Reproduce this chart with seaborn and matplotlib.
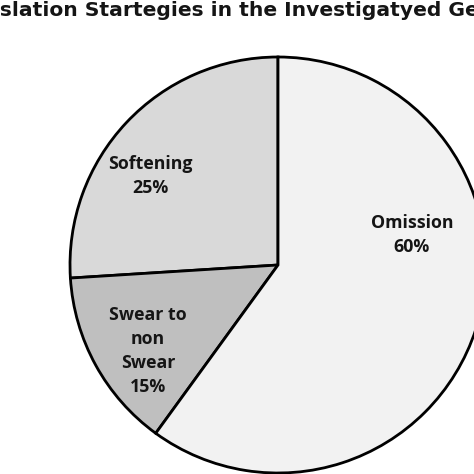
import matplotlib
matplotlib.use("Agg")
import matplotlib.pyplot as plt
import seaborn as sns

# valeurs (parts des stratégies)
categories = ["Softening", "Swear to non Swear", "Omission"]
parts = [26, 14, 60]
etiquettes = ["Softening\n25%", "Swear to\nnon\nSwear\n15%", "Omission\n60%"]
couleurs = ["#d9d9d9", "#bfbfbf", "#f2f2f2"]
titre = "Translation Startegies in the Investigatyed Genre"

sns.set_theme(style="white")
plt.rcParams["font.family"] = ["Open Sans", "DejaVu Sans"]

fig = plt.figure(figsize=(4.74, 4.74), dpi=100)
ax = fig.add_axes([0, 0, 1, 1])

wedges, _ = ax.pie(parts, colors=couleurs, startangle=90, counterclock=True,
                   radius=1.0, center=(0, 0),
                   wedgeprops=dict(edgecolor="black", linewidth=2.0))

# cadrage : centre du camembert a (278, 265) px, rayon 208 px
r_px = 208
ax.set_xlim(-278 / r_px, (474 - 278) / r_px)
ax.set_ylim(-(474 - 265) / r_px, 265 / r_px)
ax.set_aspect("equal")
ax.axis("off")

# etiquettes
pos = [(150, 176), (148, 351), (412, 235)]
for (px, py), txt in zip(pos, etiquettes):
    ax.text((px - 278) / r_px, (265 - py) / r_px, txt, ha="center", va="center",
            fontsize=12.8, fontweight="bold", color="#151515", linespacing=1.45)

# titre coupe a gauche et a droite
fam_titre = ["DejaVu Sans"]
taille_titre = 14.6
renderer = fig.canvas.get_renderer()
t_tmp = fig.text(0, 0, "Tran", fontsize=taille_titre, fontweight="bold", family=fam_titre)
w_pref = t_tmp.get_window_extent(renderer).width
t_tmp.remove()
fig.text(-w_pref / 474, 1 - 11 / 474, titre, ha="left", va="center",
         fontsize=taille_titre, fontweight="bold", color="#151515", family=fam_titre)

fig.savefig("out.png", dpi=100)
